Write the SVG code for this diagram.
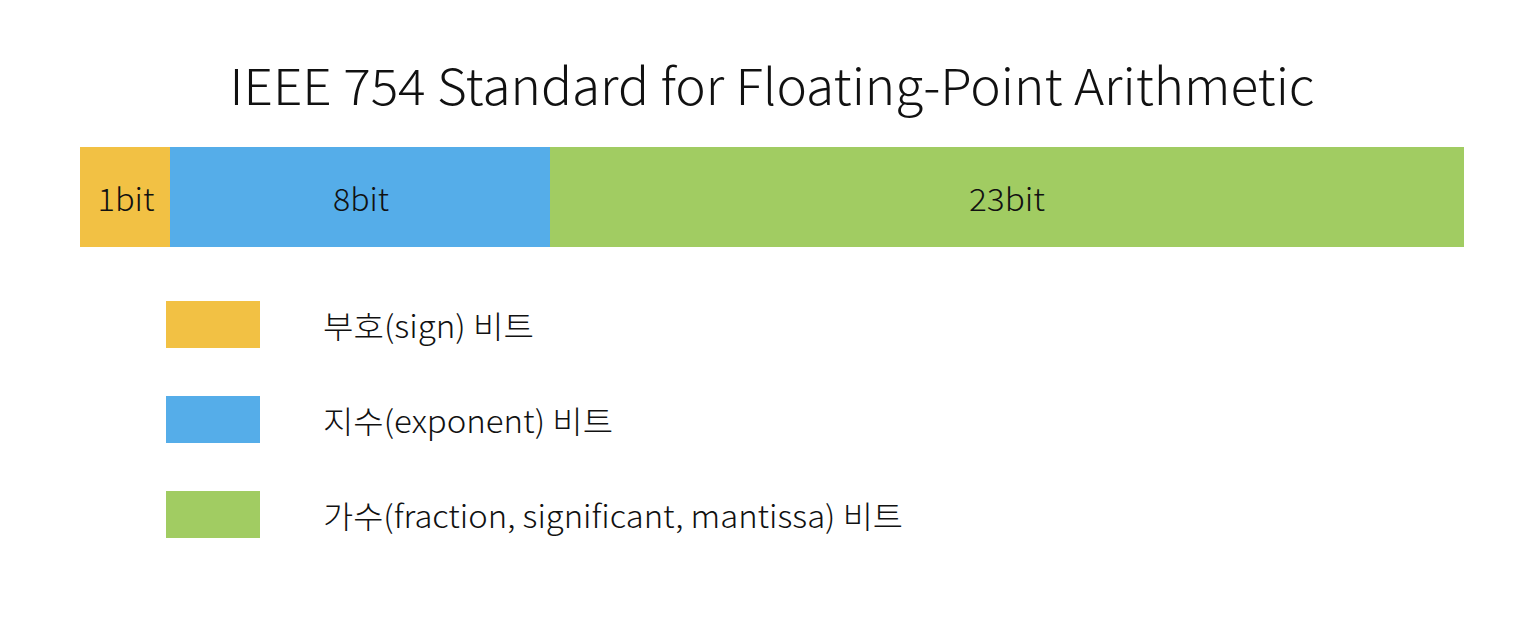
<svg xmlns="http://www.w3.org/2000/svg" width="1532" height="640" viewBox="0 0 1532 640">
<style>
text{font-family:"Noto Sans CJK KR","Noto Sans",sans-serif;fill:#111;font-weight:300}
.t{font-size:50px}
.b{font-size:31px;text-anchor:middle}
.l{font-size:31px}
.y{fill:#F2C144}.bl{fill:#55ADE9}.g{fill:#A1CC62}
</style>
<rect width="1532" height="640" fill="#fff"/>
<text id="title" class="t" x="772" y="105" text-anchor="middle" textLength="1085" lengthAdjust="spacingAndGlyphs">IEEE 754 Standard for Floating-Point Arithmetic</text>
<g id="bar">
<g id="sign"><rect class="y" x="80" y="147" width="90" height="100"/><text class="b" x="126" y="211" textLength="57" lengthAdjust="spacingAndGlyphs">1bit</text></g>
<g id="exponent"><rect class="bl" x="170" y="147" width="380" height="100"/><text class="b" x="361" y="211" textLength="56" lengthAdjust="spacingAndGlyphs">8bit</text></g>
<g id="fraction"><rect class="g" x="550" y="147" width="914" height="100"/><text class="b" x="1007" y="211" textLength="76" lengthAdjust="spacingAndGlyphs">23bit</text></g>
</g>
<g id="legend">
<g id="leg-sign"><rect class="y" x="166" y="301" width="94" height="47"/><text class="l" x="323" y="338" textLength="211" lengthAdjust="spacingAndGlyphs">부호(sign) 비트</text></g>
<g id="leg-exp"><rect class="bl" x="166" y="396" width="94" height="47"/><text class="l" x="323" y="433" textLength="290" lengthAdjust="spacingAndGlyphs">지수(exponent) 비트</text></g>
<g id="leg-frac"><rect class="g" x="166" y="491" width="94" height="47"/><text class="l" x="323" y="528" textLength="580" lengthAdjust="spacingAndGlyphs">가수(fraction, significant, mantissa) 비트</text></g>
</g>
<g id="connectors"/>
</svg>
